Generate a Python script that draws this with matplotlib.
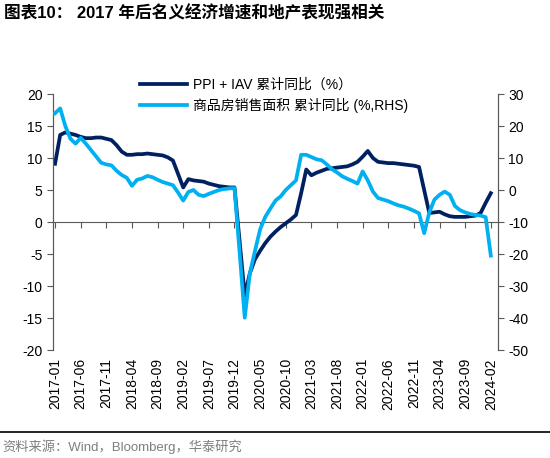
import numpy as np
import pandas as pd
import matplotlib
matplotlib.use("Agg")
import matplotlib.pyplot as plt

plt.rcParams['font.family'] = ['Liberation Sans', 'Noto Sans CJK SC']
plt.rcParams['axes.unicode_minus'] = False

# monthly, 2017-01 .. 2024-02
months = pd.period_range("2017-01", "2024-02", freq="M").strftime("%Y-%m").tolist()

# PPI + IAV 累计同比 (%), left axis
ppi_iav = [
    9.1, 13.6, 14.0, 13.8, 13.6, 13.3, 13.1, 13.1, 13.2, 13.2, 13.0, 12.8,
    12.0, 11.0, 10.5, 10.5, 10.6, 10.6, 10.7, 10.6, 10.5, 10.4, 10.1, 9.6,
    7.5, 5.4, 6.7, 6.5, 6.4, 6.3, 6.0, 5.8, 5.6, 5.5, 5.4, 5.4,
    -3.0, -11.5, -8.0, -5.8, -4.5, -3.3, -2.3, -1.5, -0.8, -0.2, 0.4, 1.1,
    4.5, 8.2, 7.3, 7.7, 8.0, 8.3, 8.4, 8.5, 8.6, 8.7, 9.0, 9.4,
    10.2, 11.1, 10.0, 9.4, 9.3, 9.2, 9.2, 9.1, 9.0, 8.9, 8.8, 8.6,
    5.0, 1.4, 1.5, 1.6, 1.2, 0.9, 0.8, 0.8, 0.8, 0.9, 1.0, 1.4,
    3.0, 4.5,
]

# 商品房销售面积 累计同比 (%), right axis
sales_area = [
    24.0, 25.5, 20.0, 16.0, 14.5, 16.3, 14.5, 12.5, 10.5, 8.5, 8.0, 7.7,
    6.0, 4.7, 3.8, 1.3, 3.2, 3.6, 4.4, 4.0, 3.2, 2.5, 2.0, 1.5,
    -0.8, -3.3, -0.6, 0.0, -1.5, -1.9, -1.2, -0.6, 0.0, 0.3, 0.5, 0.6,
    -19.5, -39.9, -26.0, -19.0, -12.3, -8.4, -5.8, -3.3, -2.0, 0.0, 1.5, 3.0,
    11.0, 11.0, 10.3, 9.6, 9.3, 8.0, 6.5, 5.5, 4.3, 3.5, 2.8, 2.0,
    5.8, 3.0, -0.5, -2.5, -3.0, -3.5, -4.2, -4.8, -5.2, -5.8, -6.5, -7.3,
    -13.5, -7.0, -3.0, -1.5, -0.5, -1.5, -5.0, -6.3, -7.0, -7.5, -7.8, -8.0,
    -8.5, -20.5,
]

dark = '#002060'
light = '#00B0F0'
grey = '#595959'

fig = plt.figure(figsize=(5.5, 4.58), dpi=100)
ax = fig.add_axes([53 / 550, 1 - 350 / 458, 445 / 550, 256 / 458])
ax2 = ax.twinx()

x = np.arange(len(months))
l1, = ax.plot(x, ppi_iav, color=dark, lw=2.7, solid_joinstyle='round', zorder=3)
l2, = ax2.plot(x, sales_area, color=light, lw=2.7, solid_joinstyle='round', zorder=3)

ax.set_xlim(-0.4, 86.4)
ax.set_ylim(-20, 20)
ax.set_yticks(range(-20, 21, 5))
ax2.set_ylim(-50, 30)
ax2.set_yticks(range(-50, 31, 10))

for a in (ax, ax2):
    a.spines['top'].set_visible(False)
    a.spines['left'].set_color(grey)
    a.spines['right'].set_color(grey)
    a.spines['bottom'].set_visible(False)
ax.spines['bottom'].set_visible(True)
ax.spines['bottom'].set_position(('data', 0))
ax.spines['bottom'].set_color(grey)

tick_idx = x[::5]
ax.set_xticks(tick_idx)
ax.set_xticklabels([months[i] for i in tick_idx], rotation=90)
ax.tick_params(axis='x', direction='out', length=4, color=grey, pad=94, labelsize=10)
ax.tick_params(axis='y', direction='out', length=4, color=grey, labelsize=10)
ax2.tick_params(axis='y', direction='out', length=4, color=grey, labelsize=10)

fig.legend([l1, l2], ['PPI + IAV 累计同比（%）', '商品房销售面积 累计同比 (%,RHS)'],
           loc='upper left', bbox_to_anchor=(140 / 550, 1 - 78 / 458),
           frameon=False, fontsize=10, handlelength=3.4, handletextpad=0.4,
           labelspacing=0.45, borderaxespad=0, borderpad=0)

fig.text(4 / 550, 1 - 13 / 458, '图表10： 2017 年后名义经济增速和地产表现强相关',
         fontsize=12, fontweight='bold', va='center', ha='left')
fig.add_artist(plt.Line2D([0, 1], [1 - 432 / 458, 1 - 432 / 458], color='black', lw=1.2))
fig.text(2 / 550, 1 - 447 / 458, '资料来源：Wind，Bloomberg，华泰研究',
         fontsize=9.5, color='#7f7f7f', va='center', ha='left')

fig.savefig('out.png', dpi=100)
